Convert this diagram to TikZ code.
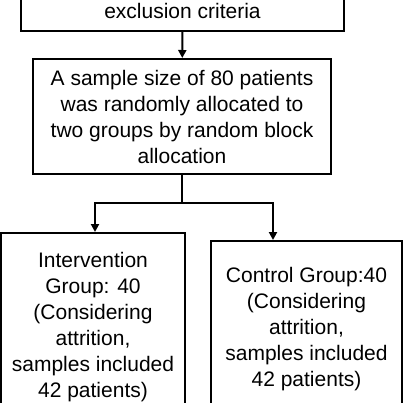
\documentclass[tikz,border=0pt]{standalone}
\usepackage{fontspec}
\setmainfont{Liberation Sans}
\usetikzlibrary{arrows.meta}

\begin{document}
\begin{tikzpicture}[x=0.5pt, y=-0.5pt,
    box/.style={draw, line width=1pt, inner sep=0pt, align=center,
                font=\fontsize{10.5}{13}\selectfont},
    arr/.style={-{Triangle[length=4pt,width=4pt]}, line width=1pt}]

    \clip (0,0) rectangle (403,403);

    % flow boxes
    \node[box, minimum width=161.5pt, minimum height=20pt] (crit) at (182.5,11) {exclusion criteria};
    \node[box, minimum width=149pt, minimum height=57.5pt] (sample) at (182,116.5)
      {A sample size of 80 patients\\was randomly allocated to\\two groups by random block\\allocation};
    \node[box, minimum width=92pt, minimum height=94.5pt] (interv) at (93,327.5)
      {Intervention\\Group: 40\\(Considering\\attrition,\\samples included\\42 patients)};
    \node[box, minimum width=95.5pt, minimum height=88pt] (ctrl) at (306.5,329)
      {Control Group:40\\(Considering\\attrition,\\samples included\\42 patients)};

    % connectors
    \draw[arr] (crit) -- (sample);
    \coordinate (split) at (182,203);
    \draw[line width=1pt] (sample) -- (split);
    \draw[arr] (split) -| ([xshift=1pt]interv.north);
    \draw[arr] (split) -| ([xshift=-16.75pt]ctrl.north);
\end{tikzpicture}
\end{document}
